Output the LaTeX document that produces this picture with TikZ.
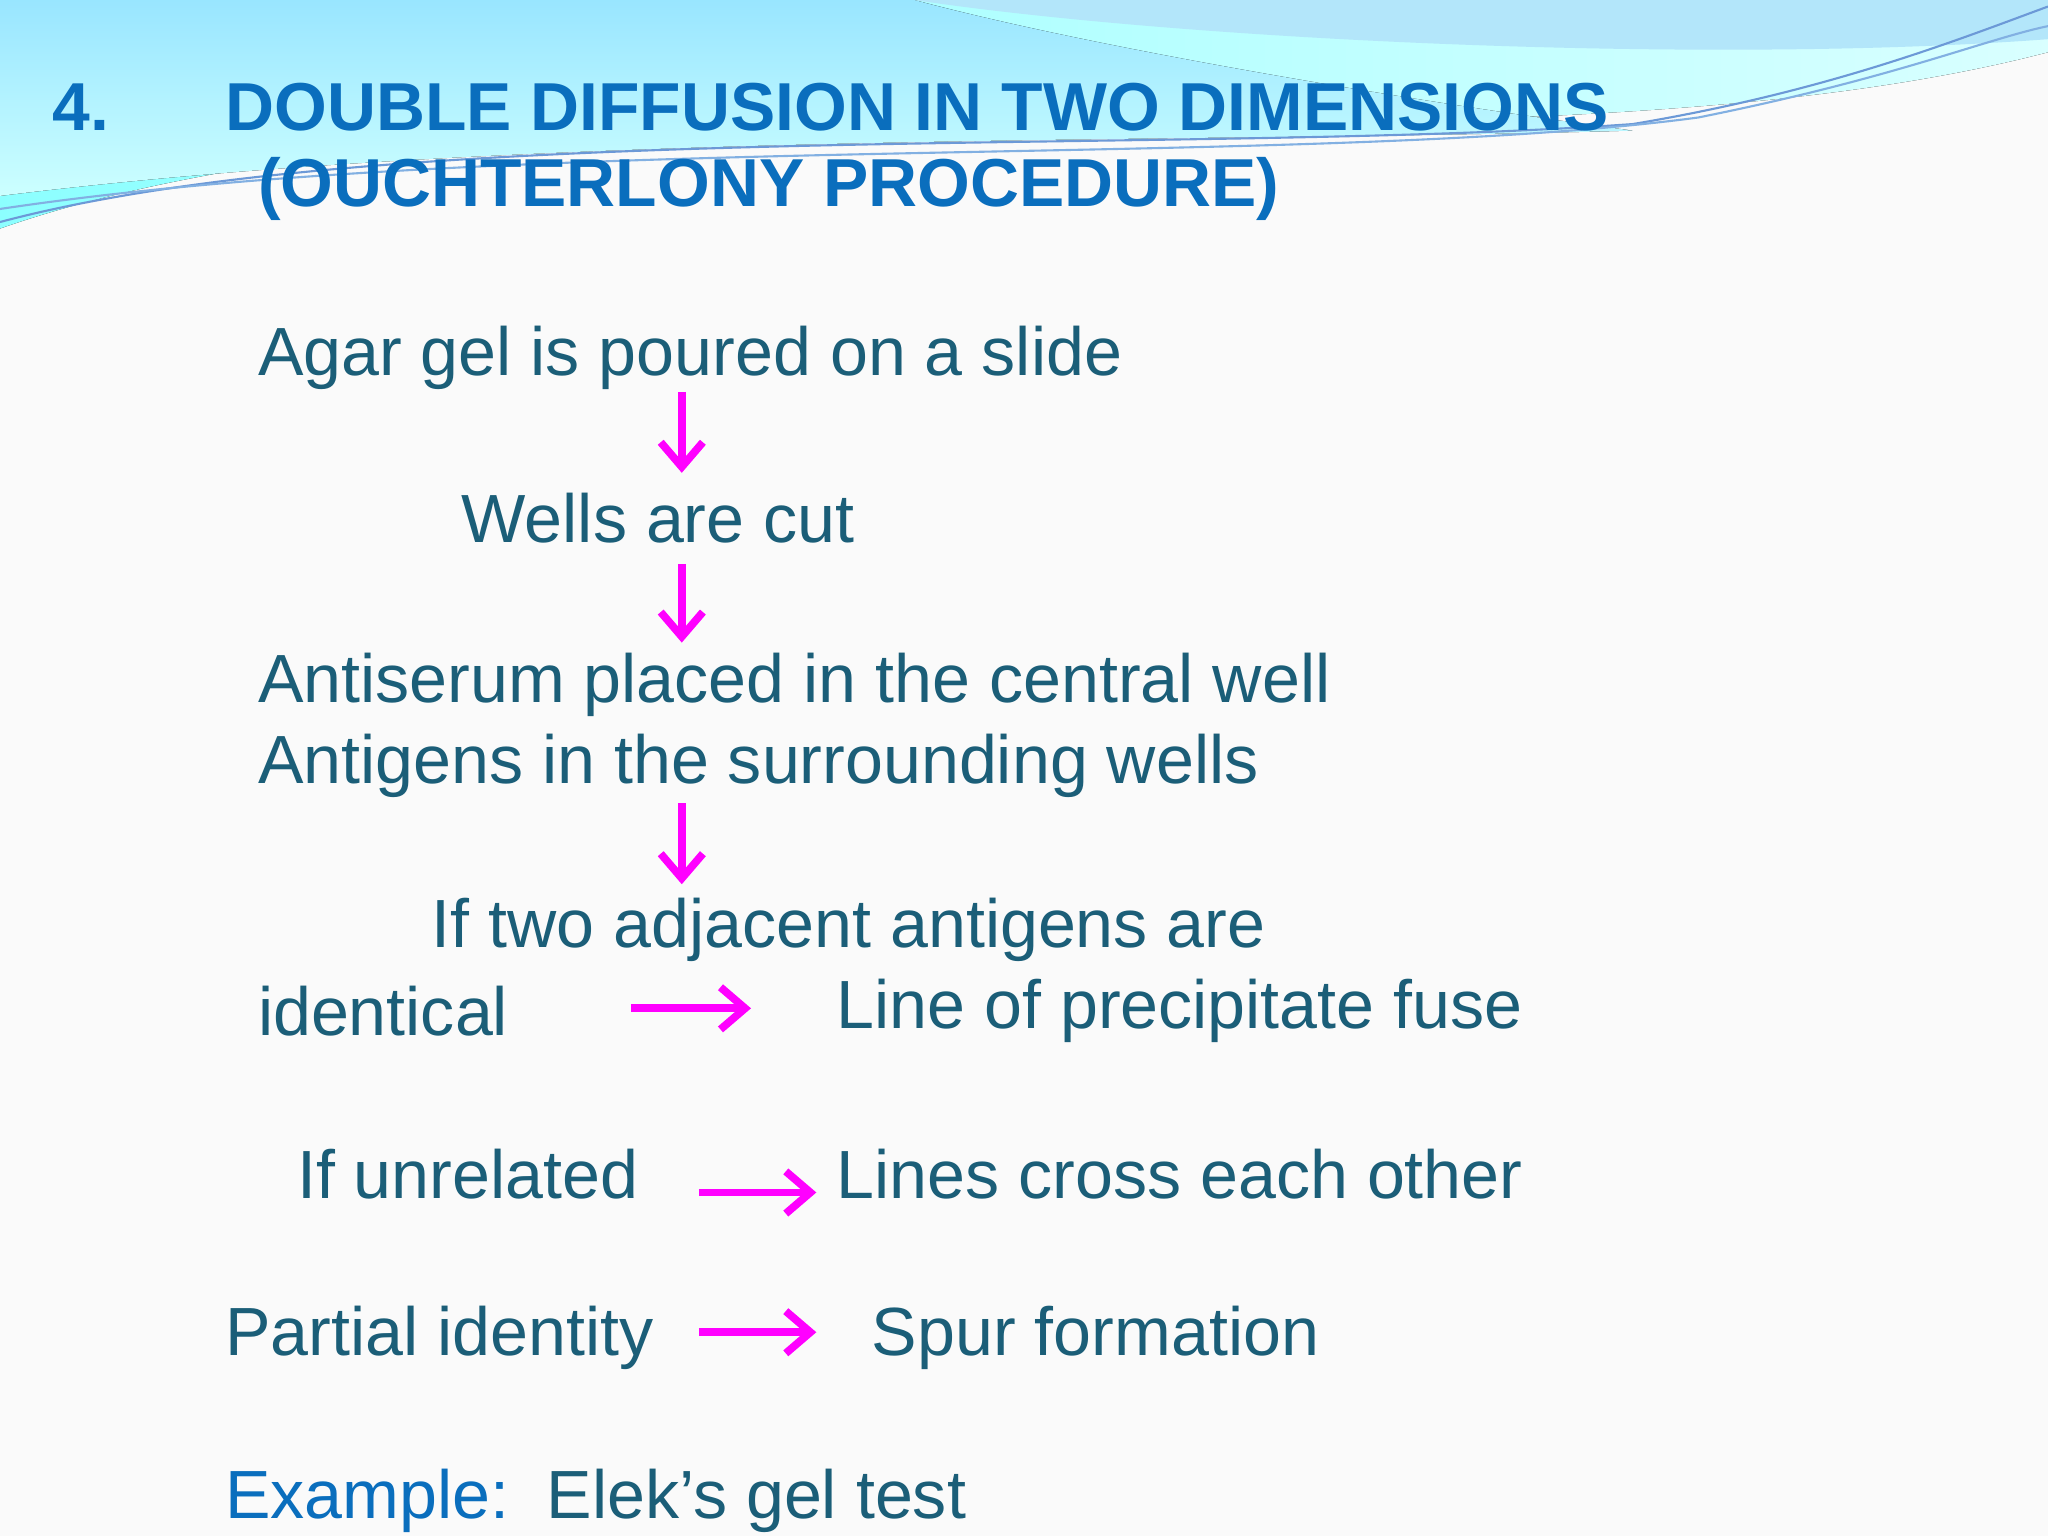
\documentclass[tikz,border=0pt]{standalone}
\usepackage{fontspec}
\setmainfont{Liberation Sans}
\usetikzlibrary{arrows.meta}
\definecolor{txt}{HTML}{1B5E78}
\definecolor{ttl}{HTML}{0A6EBD}
\definecolor{mag}{HTML}{FF00FF}
\tikzset{
  body/.style={anchor=west,inner sep=0pt,text=txt,font=\fontsize{19.4}{22}\selectfont},
  title/.style={anchor=west,inner sep=0pt,text=ttl,font=\fontsize{19.3}{22}\selectfont\bfseries},
  arr/.style={draw=mag,line width=2.2pt,-{Straight Barb[length=7pt,width=12pt,line width=2.2pt]}}
}
\begin{document}
\begin{tikzpicture}[x=0.013061cm,y=-0.013061cm]
\useasboundingbox (0,0) rectangle (1568,1176);
\fill[white!96!gray] (0,0) rectangle (1568,1176);
% top waves
\fill[left color=cyan!45,right color=cyan!15] (0,0) -- (1568,0) -- (1568,40) .. controls (1300,110) and (900,90) .. (500,100) .. controls (250,110) and (100,140) .. (0,175) -- cycle;
\fill[top color=blue!25!cyan!40,bottom color=cyan!20] (0,0) -- (700,0) .. controls (850,40) and (1100,80) .. (1250,100) .. controls (900,110) and (400,100) .. (0,150) -- cycle;
\fill[cyan!30!white] (700,0) -- (1568,0) -- (1568,30) .. controls (1300,50) and (900,30) .. (700,0) -- cycle;
\draw[cyan!50!blue!60,line width=0.6pt] (0,170) .. controls (300,90) and (900,120) .. (1250,95) .. controls (1400,70) and (1500,30) .. (1568,5);
\draw[cyan!60!blue!50,line width=0.6pt] (0,160) .. controls (400,100) and (1000,130) .. (1300,90) .. controls (1450,60) and (1520,30) .. (1568,20);
% title
\node[title] (n4) at (40,82) {4.};
\node[title] (t1) at (172,82) {DOUBLE DIFFUSION IN TWO DIMENSIONS};
\node[title] (t2) at (197,145) {(OUCHTERLONY PROCEDURE)};
% flow
\node[body] (a) at (197,274) {Agar gel is poured on a slide};
\node[body] (w) at (353,397) {Wells are cut};
\node[body] (s) at (197,524) {Antiserum placed in the central well};
\node[body] (g) at (197,586) {Antigens in the surrounding wells};
\node[body] (i1) at (330,712) {If two adjacent antigens are};
\node[body] (i2) at (197,774) {identical};
\node[body] (l1) at (640,774) {Line of precipitate fuse};
\node[body] (u) at (227,899) {If unrelated};
\node[body] (l2) at (640,899) {Lines cross each other};
\node[body] (p) at (172,1024) {Partial identity};
\node[body] (l3) at (667,1024) {Spur formation};
\node[body,text=ttl] (ex) at (172,1149) {Example:};
\node[body] (el) at (418,1149) {Elek’s gel test};
% arrows
\coordinate (a1) at (522,300); \coordinate (a2) at (522,362);
\coordinate (b1) at (522,432); \coordinate (b2) at (522,492);
\coordinate (c1) at (522,615); \coordinate (c2) at (522,677);
\coordinate (d1) at (483,772); \coordinate (d2) at (575,772);
\coordinate (e1) at (535,913); \coordinate (e2) at (625,913);
\coordinate (f1) at (535,1020); \coordinate (f2) at (625,1020);
\draw[arr] (a1) -- (a2);
\draw[arr] (b1) -- (b2);
\draw[arr] (c1) -- (c2);
\draw[arr] (d1) -- (d2);
\draw[arr] (e1) -- (e2);
\draw[arr] (f1) -- (f2);
\end{tikzpicture}
\end{document}
